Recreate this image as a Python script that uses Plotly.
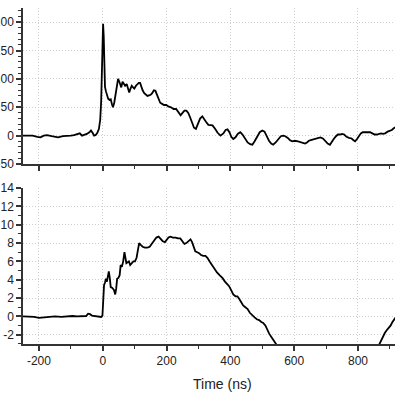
import plotly.graph_objects as go

# ---- data: top panel ----
t_top = [-250,-235,-220,-205,-195,-185,-175,-160,-150,-140,-125,-110,-100,-90,-80,-72,-65,-58,-50,-42,-37,-32,-27,-22,-17,-12,-8,-5,-3,-1,1,3,5,7,10,13,17,21,25,29,32,36,40,44,48,52,55,58,62,66,70,75,79,83,87,91,95,99,104,109,113,117,121,125,130,135,140,145,150,155,160,165,170,175,180,186,192,199,207,214,222,230,238,244,250,256,262,268,274,280,286,292,298,305,312,318,324,331,338,344,352,360,369,378,385,391,397,403,409,416,423,431,438,446,454,462,469,476,484,492,500,507,514,521,528,534,542,550,558,566,572,580,587,594,602,612,620,627,634,640,646,652,660,668,676,682,690,698,705,712,718,724,731,737,744,750,757,764,772,780,786,791,797,803,809,815,822,831,838,845,852,859,866,872,878,885,893,900,906,912,918]
v_top = [0,0,0,-2,-3,0,1,-1,-2,-3,-1,-1,0,1,2,4,0,1,3,6,9,5,0,1,5,12,28,60,110,160,197,175,120,86,78,72,65,63,64,55,50,58,72,88,100,95,90,85,95,90,88,91,82,76,83,88,85,83,88,92,93,93,86,80,75,72,70,71,72,75,80,79,73,65,58,56,54,54,51,50,47,47,40,36,40,44,44,40,32,22,14,12,20,30,34,30,24,19,19,18,12,5,0,4,10,11,6,-2,-6,-3,3,6,2,-6,-12,-15,-16,-10,-1,6,9,7,-1,-9,-14,-16,-12,-6,-1,0,-1,-4,-8,-10,-9,-10,-11,-12,-14,-12,-9,-8,-7,-6,-4,-3,-5,-10,-14,-16,-12,-6,-1,2,2,3,2,-2,-4,-5,-8,-10,-6,0,4,6,6,7,6,4,2,2,3,4,3,4,7,8,10,13,15]

# ---- data: bottom panel ----
t_bot = [-250,-230,-215,-200,-185,-170,-150,-130,-110,-95,-80,-60,-52,-46,-40,-34,-25,-15,-5,-1,2,4,7,10,13,16,19,22,25,30,35,39,42,45,49,53,56,60,64,68,71,74,78,82,86,90,96,101,106,110,114,119,125,132,140,147,153,160,168,175,181,188,195,200,206,212,220,228,236,243,249,256,262,268,275,280,285,290,296,302,308,315,322,328,335,342,350,358,366,375,383,390,396,402,409,416,422,428,434,440,447,454,461,469,476,483,490,497,503,510,516,522,528,535,541,548,556,570,600,650,700,750,800,840,858,866,872,878,884,890,896,902,908,914,920]
v_bot = [0,0,-0.05,-0.15,-0.1,-0.05,0,-0.05,0,0.05,0,0,0.05,0.3,0.25,0.1,0.05,0,-0.05,0.1,2.0,3.4,3.7,4.1,3.8,4.5,4.9,4.2,3.2,3.1,2.9,2.4,3.0,4.1,4.2,4.5,5.6,5.4,6.0,7.0,6.5,5.8,5.9,6.0,5.6,5.8,6.0,6.0,6.4,7.2,8.0,7.8,7.6,7.5,7.5,7.6,7.9,8.2,8.6,8.7,8.5,8.2,8.1,8.3,8.6,8.7,8.6,8.6,8.5,8.5,8.2,7.9,8.0,8.2,8.4,8.1,7.6,7.1,7.0,6.9,6.7,6.6,6.6,6.4,6.0,5.6,5.2,4.8,4.5,4.2,3.8,3.5,3.3,2.9,2.4,2.2,2.2,1.9,1.5,1.2,1.0,0.8,0.4,0.1,-0.1,-0.3,-0.4,-0.6,-0.7,-1.0,-1.5,-1.9,-2.2,-2.6,-2.9,-3.3,-3.8,-4.6,-6.0,-7.5,-8.2,-7.8,-6.5,-4.8,-3.8,-3.1,-2.6,-2.2,-1.8,-1.5,-1.3,-1.0,-0.6,-0.3,0.0]

x_ticks = [-200, 0, 200, 400, 600, 800]
top_ticks = [-50, 0, 50, 100, 150, 200]
bot_ticks = [-2, 0, 2, 4, 6, 8, 10, 12, 14]
x_title = "Time (ns)"

XR = [-250, 916]
FONT = "Arial, Liberation Sans, sans-serif"
AX = "#333333"
GRID = "#cfcfcf"
GDASH = "1px,2px"

fig = go.Figure()
fig.add_trace(go.Scatter(x=t_top, y=v_top, mode="lines", xaxis="x2", yaxis="y2",
                         line=dict(color="black", width=1.8), showlegend=False))
fig.add_trace(go.Scatter(x=t_bot, y=v_bot, mode="lines", xaxis="x", yaxis="y",
                         line=dict(color="black", width=1.8), showlegend=False))

def xax(anchor, labels, side="bottom", overlay=None, grid=True):
    d = dict(anchor=anchor, domain=[0, 1], range=XR, side=side, automargin=False,
             tickmode="array", tickvals=x_ticks, ticktext=[str(v) for v in x_ticks],
             showticklabels=labels, ticks="outside" if side == "bottom" else "inside",
             ticklen=5, tickwidth=1.5, tickcolor=AX,
             minor=dict(dtick=100, tick0=0, ticks="outside" if side == "bottom" else "inside",
                        ticklen=3, tickwidth=1.2, tickcolor=AX, showgrid=False),
             showline=True, linecolor=AX, linewidth=1.5,
             showgrid=grid, gridcolor=GRID, griddash=GDASH, gridwidth=1,
             zeroline=False, tickfont=dict(size=12, color="#222", family=FONT))
    if overlay:
        d["overlaying"] = overlay
    return d

def yax(domain, rng, ticks, minor_dt, anchor):
    return dict(anchor=anchor, domain=domain, range=rng, automargin=False,
                tickmode="array", tickvals=ticks, ticktext=[str(v) for v in ticks],
                ticks="outside", ticklen=5, tickwidth=1.5, tickcolor=AX,
                minor=dict(dtick=minor_dt, ticks="outside", ticklen=3, tickwidth=1.2,
                           tickcolor=AX, showgrid=False),
                showline=True, linecolor=AX, linewidth=1.5,
                showgrid=True, gridcolor=GRID, griddash=GDASH, gridwidth=1,
                zeroline=False, tickfont=dict(size=12, color="#222", family=FONT))

fig.update_layout(
    width=395, height=395,
    margin=dict(l=23, r=0, t=8, b=51, pad=0, autoexpand=False),
    paper_bgcolor="white", plot_bgcolor="white",
    font=dict(family=FONT, color="#222"),
    xaxis=xax("y", True),
    xaxis2=xax("y2", False),
    xaxis3=xax("y", False, side="top", overlay="x", grid=False),
    xaxis4=xax("y2", False, side="top", overlay="x2", grid=False),
    yaxis=yax([0, 0.4643], [-3, 14], bot_ticks, 1, "x"),
    yaxis2=yax([0.5357, 1], [-50, 225], top_ticks, 10, "x2"),
    annotations=[dict(text=x_title, xref="paper", yref="paper", x=0.535, y=-0.119,
                      xanchor="center", yanchor="middle", showarrow=False,
                      font=dict(size=14, color="#222", family=FONT))],
)

fig.write_html("out.html", config={"displayModeBar": False},
               post_script="document.body.style.margin='0';document.body.style.overflow='hidden';")
